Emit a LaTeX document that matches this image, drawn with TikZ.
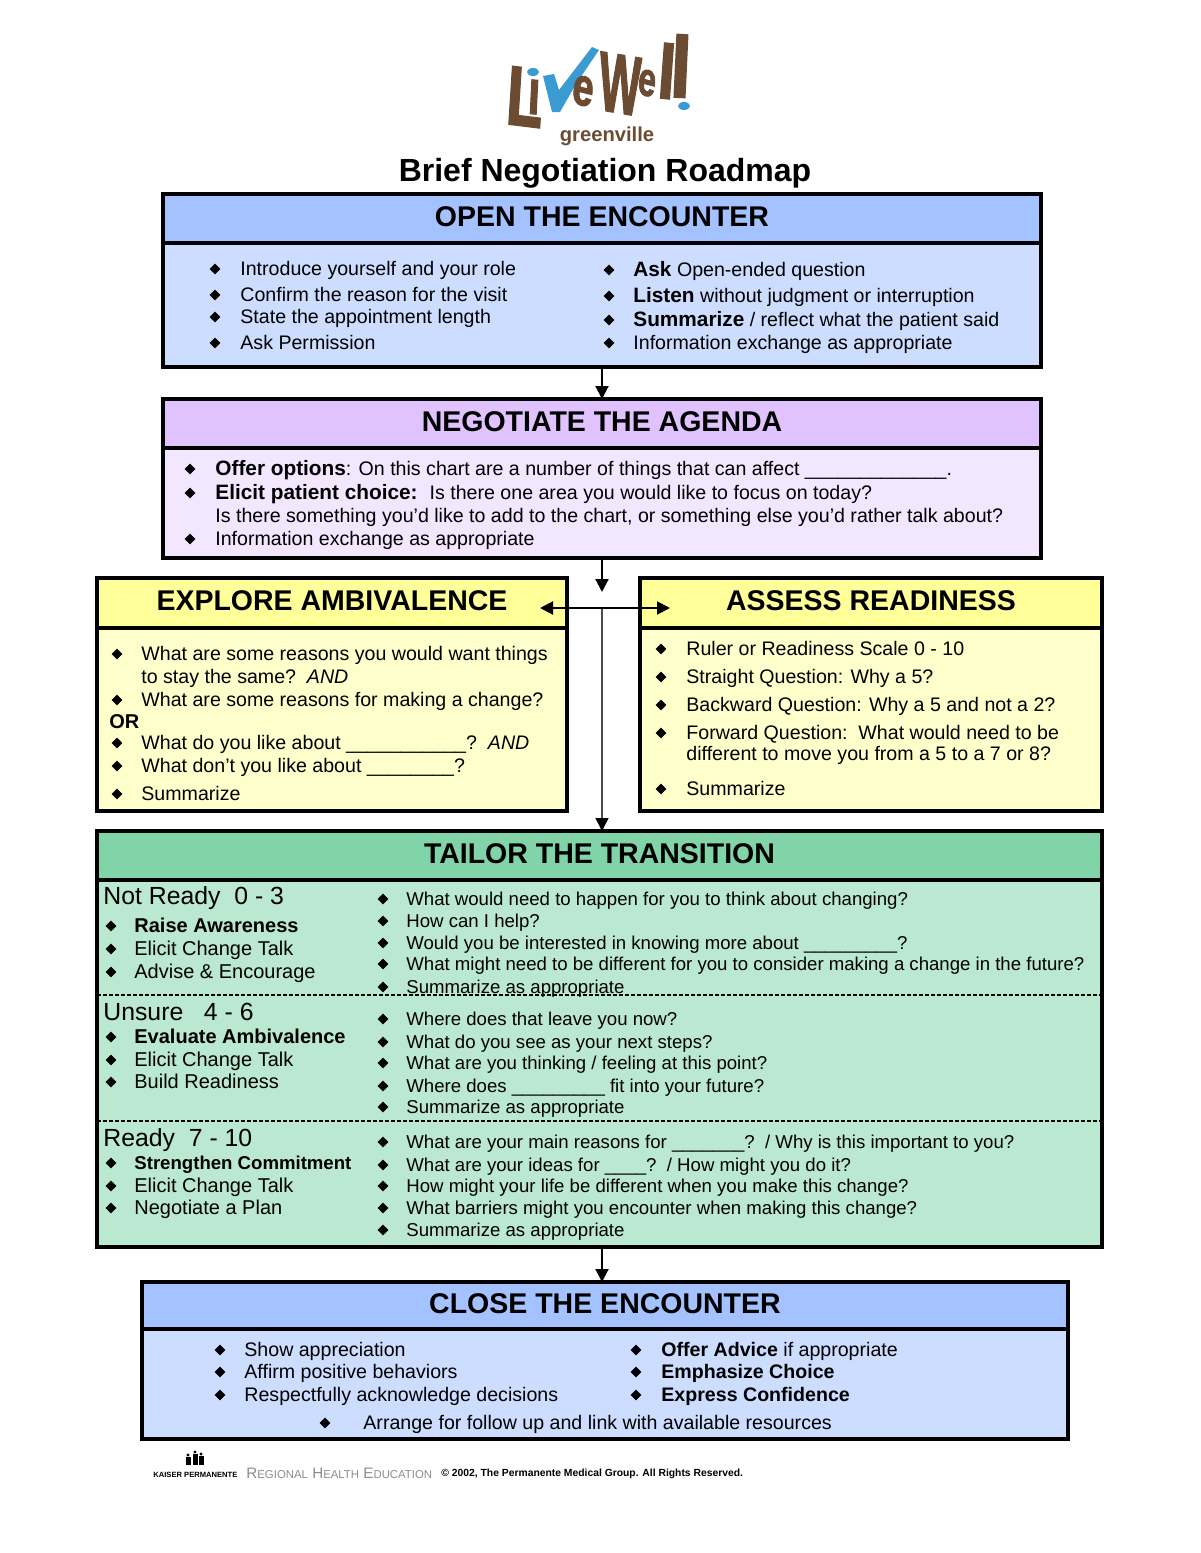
\documentclass[tikz,border=0pt]{standalone}
\usepackage{fontspec}
\setmainfont{Liberation Sans}
\newfontfamily\logofont[BoldFeatures={FakeBold=2.2}]{Liberation Sans}
\usetikzlibrary{shapes.geometric, arrows.meta, positioning}
% one row of bullet + text per y/{text} pair
\newcommand{\itemrows}[4]{%
  \foreach \ty/\txt [count=\n] in {#4} {
    \node[tick] (#1b\n) at (#2,\ty) {};
    \node[rowtext] (#1\n) at (#3,\ty+6) {\txt};
  }}
\newcommand{\bfwide}[1]{{\fontsize{10.4}{12}\selectfont\textbf{#1}}}
\begin{document}
\begin{tikzpicture}[
  x=0.5pt, y=-0.5pt,
  node distance=16pt and 0pt,
  head/.style={rectangle, draw, line width=2pt, outer sep=0pt, inner sep=0pt, text depth=2pt, font=\fontsize{14.25}{16}\selectfont\bfseries},
  panel/.style={rectangle, draw, line width=2pt, outer sep=0pt, inner sep=0pt},
  tick/.style={diamond, fill=black, inner sep=0pt, minimum size=5.6pt},
  rowtext/.style={anchor=base west, inner sep=0pt, font=\fontsize{9.8}{12}\selectfont},
  bandtitle/.style={anchor=base west, inner sep=0pt, font=\fontsize{12.4}{14}\selectfont},
  arrow/.style={-{Triangle[length=6.5pt,width=6.5pt]}, line width=1pt},
  logo/.style={inner sep=0pt, text=logobrown, font=\fontsize{10}{10}\logofont\bfseries, transform shape}
]
  \definecolor{logobrown}{HTML}{6B4C33}
  \definecolor{logoblue}{HTML}{3A9AD2}
  \definecolor{openhead}{HTML}{A4C2FF}
  \definecolor{openbody}{HTML}{CCDDFF}
  \definecolor{agendahead}{HTML}{E0C2FF}
  \definecolor{agendabody}{HTML}{F3E6FF}
  \definecolor{yellowhead}{HTML}{FFFF99}
  \definecolor{yellowbody}{HTML}{FFFFCC}
  \definecolor{tailorhead}{HTML}{80D4A8}
  \definecolor{tailorbody}{HTML}{BBE8D0}
  \useasboundingbox (0,0) rectangle (1200,1553);

  % logo
  \node[logo, xscale=3.0, yscale=4.2, rotate=-5] (logoL) at (525,97) {L};
  \node[logo, xscale=2.2, yscale=3.2, rotate=-4] (logoI) at (534,97) {ı};
  \fill[logoblue] (533,72) ellipse (6 and 4);
  \fill[logoblue] (543,76) -- (554,74) -- (559,90) -- (592,47) -- (599,50) -- (576,84) -- (560,112) -- (552,112) -- cycle;
  \node[logo, xscale=1.9, yscale=2.7, rotate=-10] (logoe) at (583,91) {e};
  \node[logo, xscale=2.2, yscale=4.2, rotate=-5] (logoW) at (620,84) {W};
  \node[logo, xscale=1.6, yscale=2.4, rotate=-10] (logoee) at (647,83) {e};
  \node[logo, xscale=3.2, yscale=3.8, rotate=-5] (logoll) at (667,71) {l};
  \node[logo, xscale=3.8, yscale=4.3, rotate=-3] (logolll) at (681,66) {l};
  \fill[logoblue] (684,106) ellipse (6 and 4);
  \node[inner sep=0pt, text=logobrown, font=\fontsize{10.1}{10}\selectfont\bfseries] (logogreen) at (607,136) {greenville};

  \node[font=\fontsize{16}{18}\selectfont\bfseries, inner sep=0pt] (title) at (605,173) {Brief Negotiation Roadmap};

  % open
  \node[head, fill=openhead, minimum width=439pt, minimum height=24.5pt] (openhd) at (602,218.5) {OPEN THE ENCOUNTER};
  \node[panel, fill=openbody, minimum width=439pt, minimum height=62pt, below=0pt of openhd] (openbd) {};
  % agenda
  \node[head, fill=agendahead, minimum width=439pt, minimum height=24.5pt, below=of openbd] (agendahd) {NEGOTIATE THE AGENDA};
  \node[panel, fill=agendabody, minimum width=439pt, minimum height=55pt, below=0pt of agendahd] (agendabd) {};
  % explore and assess
  \node[head, fill=yellowhead, minimum width=235pt, minimum height=25pt] (explorehd) at (332,603) {EXPLORE AMBIVALENCE};
  \node[panel, fill=yellowbody, minimum width=235pt, minimum height=91.5pt, below=0pt of explorehd] (explorebd) {};
  \node[head, fill=yellowhead, minimum width=231pt, minimum height=25pt] (assesshd) at (871,603) {ASSESS READINESS};
  \node[panel, fill=yellowbody, minimum width=231pt, minimum height=91.5pt, below=0pt of assesshd] (assessbd) {};
  % tailor
  \node[head, fill=tailorhead, minimum width=502.5pt, minimum height=24.5pt] (tailorhd) at (599.5,855.5) {TAILOR THE TRANSITION};
  \node[panel, fill=tailorbody, minimum width=502.5pt, minimum height=183.5pt, below=0pt of tailorhd] (tailorbd) {};
  % close
  \node[head, fill=openhead, minimum width=463pt, minimum height=23.5pt] (closehd) at (605,1305.5) {CLOSE THE ENCOUNTER};
  \node[panel, fill=openbody, minimum width=463pt, minimum height=55pt, below=0pt of closehd] (closebd) {};

  % connectors
  \coordinate (split) at (602,592);
  \coordinate (cross) at (602,608);
  \coordinate (crossl) at (540,608);
  \coordinate (crossr) at (670,608);
  \draw[arrow] (openbd.south) -- (agendahd.north);
  \draw[arrow] (agendabd.south) -- (split);
  \draw[-{Triangle[length=6.5pt,width=6.5pt,color=black]}, line width=0.75pt, draw=black!70] (cross) -- (cross |- tailorhd.north);
  \draw[{Triangle[length=6.5pt,width=6.5pt]}-{Triangle[length=6.5pt,width=6.5pt]}, line width=1pt] (crossl) -- (crossr);
  \draw[arrow] (cross |- tailorbd.south) -- (cross |- closehd.north);

  % dashed bands
  \coordinate (banda) at (97,995);
  \coordinate (bandb) at (97,1121);
  \draw[line width=0.6pt, dash pattern=on 2pt off 1pt] (banda) -- (banda -| tailorbd.east);
  \draw[line width=0.6pt, dash pattern=on 2pt off 1pt] (bandb) -- (bandb -| tailorbd.east);

  \itemrows{opena}{215}{240}{269/{Introduce yourself and your role},295/{Confirm the reason for the visit},317/{State the appointment length},343/{Ask Permission}}
  \itemrows{openb}{609}{633}{270/{\bfwide{Ask} Open-ended question},296/{\bfwide{Listen} without judgment or interruption},320/{\bfwide{Summarize} / reflect what the patient said},343/{Information exchange as appropriate}}

  \itemrows{agenda}{190}{215}{469/{\bfwide{Offer options}: On this chart are a number of things that can affect \_\_\_\_\_\_\_\_\_\_\_\_\_.},493/{\bfwide{Elicit patient choice:}\hspace{6pt}Is there one area you would like to focus on today?},539/{Information exchange as appropriate}}
  \node[rowtext] (agendax) at (215,522) {Is there something you'd like to add to the chart, or something else you'd rather talk about?};

  \itemrows{explore}{117}{141}{654/{What are some reasons you would want things},700/{What are some reasons for making a change?},743/{What do you like about \_\_\_\_\_\_\_\_\_\_\_?\ \ \textit{AND}},766/{What don't you like about \_\_\_\_\_\_\_\_?},794/{Summarize}}
  \node[rowtext] (explorex) at (141,683) {to stay the same?\ \ \textit{AND}};
  \node[rowtext, font=\fontsize{10}{12}\selectfont\bfseries] (exploreor) at (109,728) {OR};

  \itemrows{assess}{661}{686}{649/{Ruler or Readiness Scale 0 - 10},677/{Straight Question: Why a 5?},705/{Backward Question: Why a 5 and not a 2?},733/{Forward Question:\ \ What would need to be},789/{Summarize}}
  \node[rowtext] (assessx) at (686,760) {different to move you from a 5 to a 7 or 8?};

  \begin{scope}[rowtext/.append style={font=\fontsize{10}{12}\selectfont}]
    \node[bandtitle] (notready) at (103,904) {Not Ready\ \ 0 - 3};
    \itemrows{notl}{111}{134}{926/{\textbf{Raise Awareness}},949/{Elicit Change Talk},972/{Advise \& Encourage}}
    \node[bandtitle] (unsure) at (103,1020) {Unsure\ \ \ 4 - 6};
    \itemrows{unsl}{111}{134}{1037/{\textbf{Evaluate Ambivalence}},1060/{Elicit Change Talk},1082/{Build Readiness}}
    \node[bandtitle] (ready) at (103,1146) {Ready\ \ 7 - 10};
    \itemrows{readl}{111}{134}{1163/{{\fontsize{9.3}{12}\selectfont\textbf{Strengthen Commitment}}},1186/{Elicit Change Talk},1208/{Negotiate a Plan}}
  \end{scope}
  \begin{scope}[rowtext/.append style={font=\fontsize{9.3}{12}\selectfont}]
    \itemrows{notr}{383}{406}{899/{What would need to happen for you to think about changing?},921/{How can I help?},943/{Would you be interested in knowing more about \_\_\_\_\_\_\_\_\_?},964/{What might need to be different for you to consider making a change in the future?},987/{Summarize as appropriate}}
    \itemrows{unsr}{383}{406}{1019/{Where does that leave you now?},1042/{What do you see as your next steps?},1063/{What are you thinking / feeling at this point?},1086/{Where does \_\_\_\_\_\_\_\_\_ fit into your future?},1107/{Summarize as appropriate}}
    \itemrows{readr}{383}{406}{1142/{What are your main reasons for \_\_\_\_\_\_\_?\ \ / Why is this important to you?},1165/{What are your ideas for \_\_\_\_?\ \ / How might you do it?},1186/{How might your life be different when you make this change?},1208/{What barriers might you encounter when making this change?},1230/{Summarize as appropriate}}
  \end{scope}

  \itemrows{closea}{220}{244}{1350/{Show appreciation},1372/{Affirm positive behaviors},1395/{Respectfully acknowledge decisions}}
  \itemrows{closeb}{636}{661}{1350/{\textbf{Offer Advice} if appropriate},1372/{\textbf{Emphasize Choice}},1395/{\textbf{Express Confidence}}}
  \itemrows{closec}{325}{363}{1423/{Arrange for follow up and link with available resources}}

  % footer
  \foreach \px/\py in {188/1455,195/1452,201/1454} {
    \fill (\px,\py) circle (1.6);
    \fill (\px-2.5,\py+2) rectangle (\px+2.5,1465);
  }
  \node[rowtext, font=\fontsize{3.8}{4}\selectfont\bfseries] (kaiser) at (153,1477) {KAISER PERMANENTE};
  \node[rowtext, text=black!45, font=\fontsize{7.6}{8}\selectfont] (regional) at (246,1478) {R{\fontsize{5.7}{6}\selectfont EGIONAL} H{\fontsize{5.7}{6}\selectfont EALTH} E{\fontsize{5.7}{6}\selectfont DUCATION}};
  \node[rowtext, font=\fontsize{5.17}{6}\selectfont\bfseries] (rights) at (441,1476) {© 2002, The Permanente Medical Group. All Rights Reserved.};
\end{tikzpicture}
\end{document}
